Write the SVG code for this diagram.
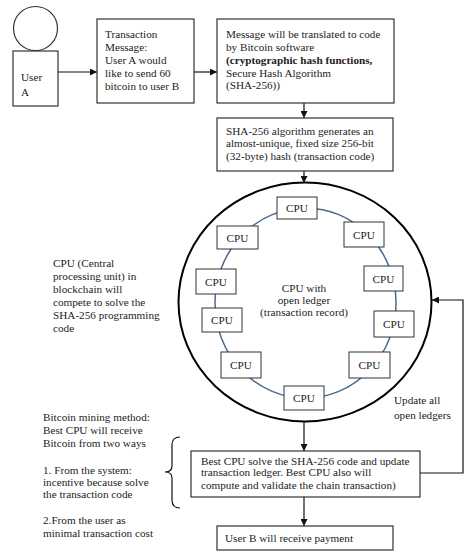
<svg xmlns="http://www.w3.org/2000/svg" width="474" height="558" viewBox="0 0 474 558">
<defs>
<style>
.box{fill:#fff;stroke:#333;stroke-width:1.2}
.cpu{fill:#fff;stroke:#333;stroke-width:1}
.t{font-family:"Liberation Serif","Times New Roman",serif;font-size:11.2px;fill:#222}
.c{text-anchor:middle}
.ln{fill:none;stroke:#111;stroke-width:1.2}
</style>
<marker id="ah" viewBox="0 0 10 10" refX="10" refY="5" markerWidth="7" markerHeight="7" markerUnits="userSpaceOnUse" orient="auto">
<path d="M0,0 L10,5 L0,10 z" fill="#111"/>
</marker>
</defs>
<rect width="474" height="558" fill="#fff"/>

<g id="connectors">
<line class="ln" x1="58" y1="72" x2="97" y2="72" marker-end="url(#ah)"/>
<line class="ln" x1="194" y1="72" x2="217" y2="72" marker-end="url(#ah)"/>
<line class="ln" x1="304" y1="103" x2="304" y2="118" marker-end="url(#ah)"/>
<line class="ln" x1="304" y1="171" x2="304" y2="183" marker-end="url(#ah)"/>
<line class="ln" x1="304" y1="422" x2="304" y2="451" marker-end="url(#ah)"/>
<line class="ln" x1="304" y1="497" x2="304" y2="526" marker-end="url(#ah)"/>
<polyline class="ln" points="420,473 463,473 463,300 432,300" marker-end="url(#ah)"/>
<path class="ln" d="M180,437 Q172,437 172,445 L172,466 Q172,472 165,472 Q172,472 172,478 L172,500 Q172,508 180,508"/>
</g>

<g id="userA">
<circle cx="35.5" cy="28.5" r="22" fill="#fff" stroke="#333" stroke-width="1.2"/>
<rect class="box" x="13" y="51" width="45" height="55"/>
<text class="t" x="21" y="81">User</text>
<text class="t" x="21" y="96">A</text>
</g>

<g id="transaction">
<rect class="box" x="97" y="19" width="97" height="84"/>
<text class="t" x="105" y="38">Transaction</text>
<text class="t" x="105" y="51">Message:</text>
<text class="t" x="105" y="64">User A would</text>
<text class="t" x="105" y="77">like to send 60</text>
<text class="t" x="105" y="90">bitcoin to user B</text>
</g>

<g id="translate">
<rect class="box" x="217" y="19" width="177" height="84"/>
<text class="t" x="226" y="38">Message will be translated to code</text>
<text class="t" x="226" y="51">by Bitcoin software</text>
<text class="t" x="226" y="64" font-weight="bold">(cryptographic hash functions,</text>
<text class="t" x="226" y="77">Secure Hash Algorithm</text>
<text class="t" x="226" y="89">(SHA-256))</text>
</g>

<g id="sha">
<rect class="box" x="217" y="118" width="176" height="53"/>
<text class="t" x="226" y="135">SHA-256 algorithm generates an</text>
<text class="t" x="226" y="147">almost-unique, fixed size 256-bit</text>
<text class="t" x="226" y="160">(32-byte) hash (transaction code)</text>
</g>

<g id="ledger">
<ellipse cx="305" cy="302" rx="126.5" ry="119.5" fill="none" stroke="#000" stroke-width="2"/>
<ellipse cx="305.5" cy="303" rx="90.5" ry="95" fill="none" stroke="#4a6a8e" stroke-width="1.5"/>
<text class="t c" x="304" y="292">CPU with</text>
<text class="t c" x="304" y="304">open ledger</text>
<text class="t c" x="304" y="316">(transaction record)</text>
</g>

<g id="cpu1"><rect class="cpu" x="277" y="197" width="40" height="22"/><text class="t c" x="297" y="212">CPU</text></g>
<g id="cpu2"><rect class="cpu" x="217" y="226" width="41" height="23"/><text class="t c" x="237.5" y="242">CPU</text></g>
<g id="cpu3"><rect class="cpu" x="344" y="222" width="40" height="25"/><text class="t c" x="364" y="239">CPU</text></g>
<g id="cpu4"><rect class="cpu" x="196" y="269" width="40" height="25"/><text class="t c" x="216" y="286">CPU</text></g>
<g id="cpu5"><rect class="cpu" x="364" y="266" width="39" height="25"/><text class="t c" x="383.5" y="283">CPU</text></g>
<g id="cpu6"><rect class="cpu" x="202" y="308" width="40" height="24"/><text class="t c" x="222" y="324">CPU</text></g>
<g id="cpu7"><rect class="cpu" x="374" y="311" width="40" height="26"/><text class="t c" x="394" y="328">CPU</text></g>
<g id="cpu8"><rect class="cpu" x="221" y="352" width="40" height="26"/><text class="t c" x="241" y="369">CPU</text></g>
<g id="cpu9"><rect class="cpu" x="349" y="352" width="41" height="26"/><text class="t c" x="369.5" y="369">CPU</text></g>
<g id="cpu10"><rect class="cpu" x="284" y="386" width="40" height="24"/><text class="t c" x="304" y="402">CPU</text></g>

<g id="cpuNote">
<text class="t" x="53" y="267">CPU (Central</text>
<text class="t" x="53" y="280">processing unit) in</text>
<text class="t" x="53" y="293">blockchain will</text>
<text class="t" x="53" y="306">compete to solve the</text>
<text class="t" x="53" y="319">SHA-256 programming</text>
<text class="t" x="53" y="332">code</text>
</g>

<g id="updateNote">
<text class="t" x="394" y="404">Update all</text>
<text class="t" x="394" y="419">open ledgers</text>
</g>

<g id="miningNote">
<text class="t" x="43" y="421">Bitcoin mining method:</text>
<text class="t" x="43" y="434">Best CPU will receive</text>
<text class="t" x="43" y="447">Bitcoin from two ways</text>
<text class="t" x="43" y="474">1. From the system:</text>
<text class="t" x="43" y="486">incentive because solve</text>
<text class="t" x="43" y="498">the transaction code</text>
<text class="t" x="43" y="524">2.From the user as</text>
<text class="t" x="43" y="537">minimal transaction cost</text>
</g>

<g id="bestCPU">
<rect class="box" x="191" y="451" width="229" height="46"/>
<text class="t" x="201" y="465">Best CPU solve the SHA-256 code and update</text>
<text class="t" x="201" y="476">transaction ledger. Best CPU also will</text>
<text class="t" x="201" y="489">compute and validate the chain transaction)</text>
</g>

<g id="userB">
<rect class="box" x="217" y="526" width="176" height="24"/>
<text class="t" x="225" y="542">User B will receive payment</text>
</g>
</svg>
